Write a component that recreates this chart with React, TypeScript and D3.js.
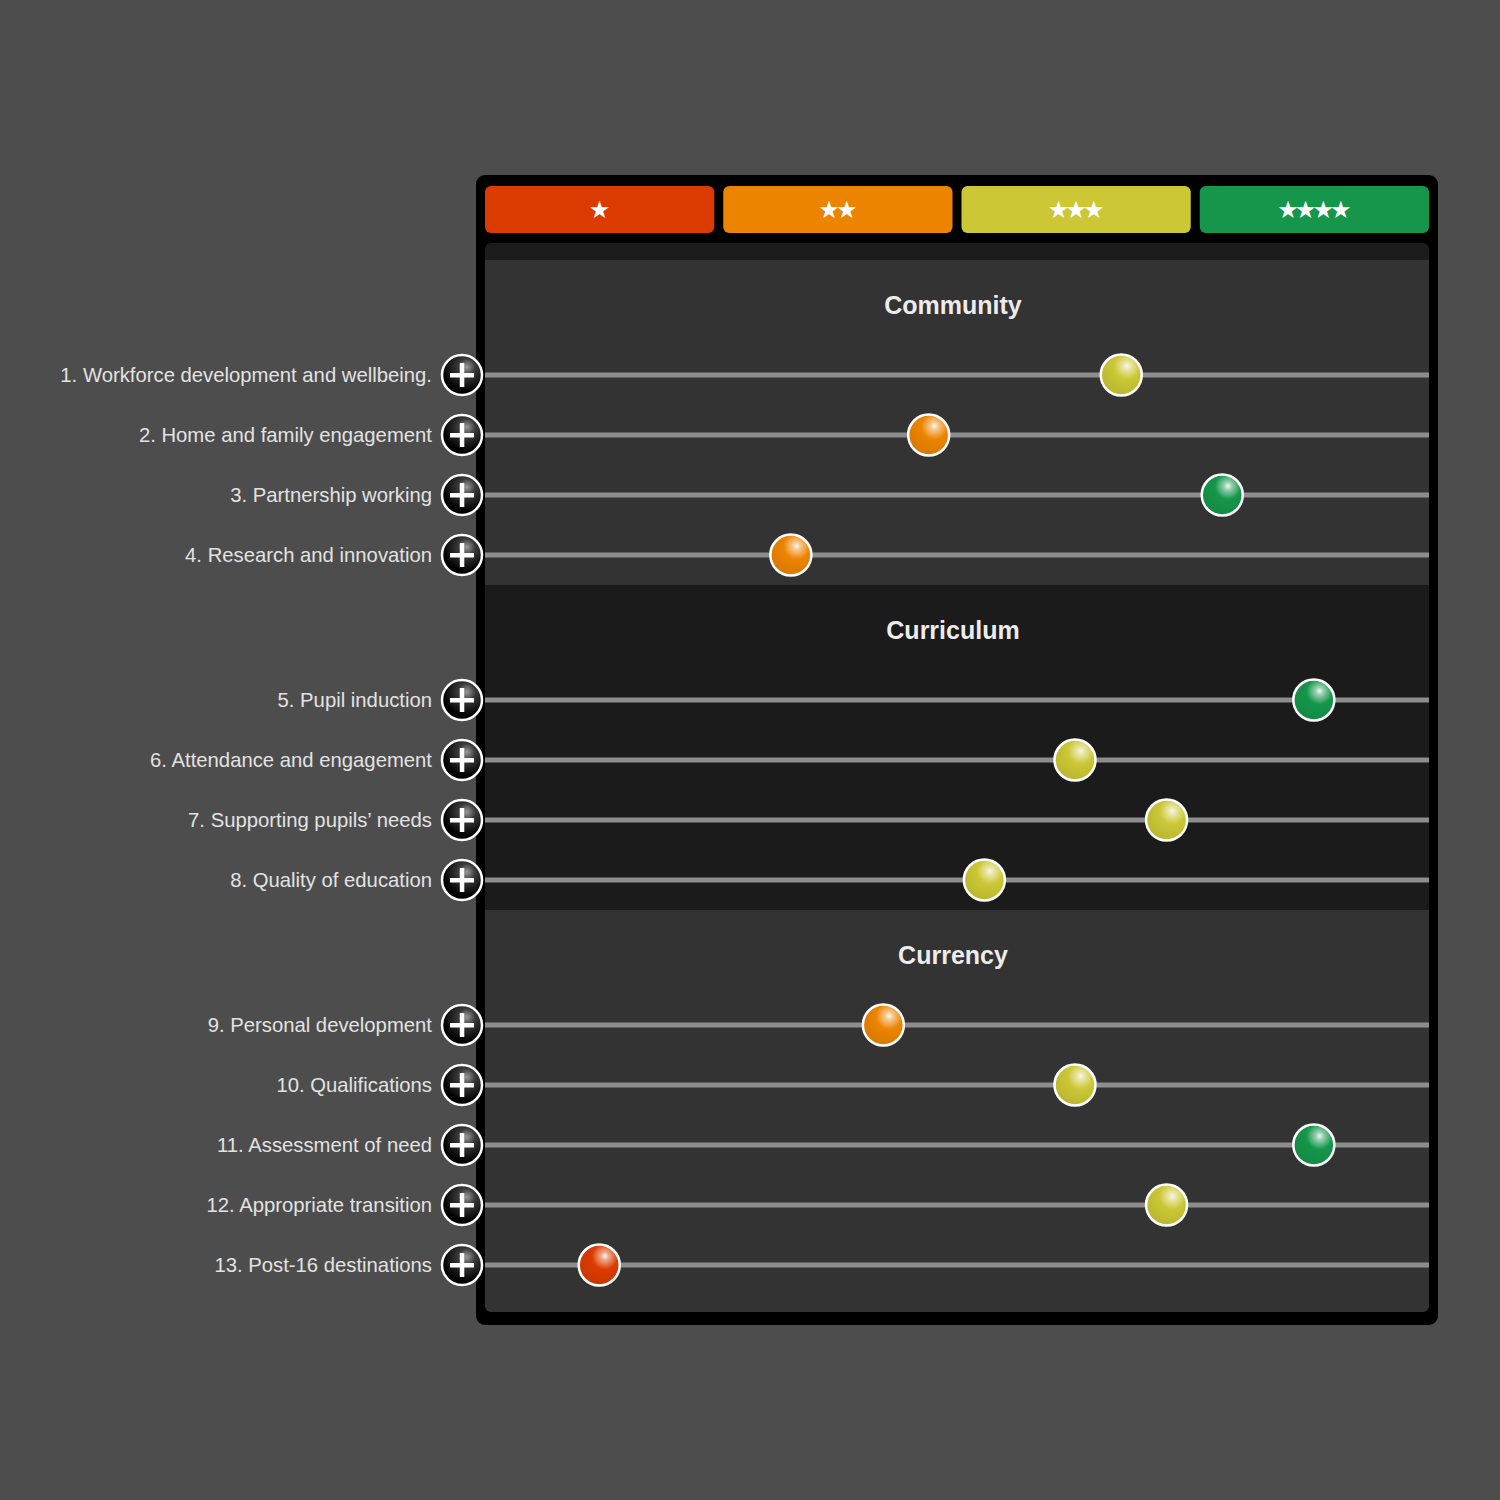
import React from "react";
import * as d3 from "d3";

const sections = ["Community", "Curriculum", "Currency"];
const sectionOf = [0, 0, 0, 0, 1, 1, 1, 1, 2, 2, 2, 2, 2];
const categories = [
  "1. Workforce development and wellbeing.",
  "2. Home and family engagement",
  "3. Partnership working",
  "4. Research and innovation",
  "5. Pupil induction",
  "6. Attendance and engagement",
  "7. Supporting pupils\u2019 needs",
  "8. Quality of education",
  "9. Personal development",
  "10. Qualifications",
  "11. Assessment of need",
  "12. Appropriate transition",
  "13. Post-16 destinations",
];
const values = [67.4, 47.0, 78.1, 32.4, 87.8, 62.5, 72.2, 52.9, 42.2, 62.5, 87.8, 72.2, 12.1];
const bandLabels = ["\u2605", "\u2605\u2605", "\u2605\u2605\u2605", "\u2605\u2605\u2605\u2605"];
const bandColors = ["#dc3b00", "#ec8400", "#cbc735", "#15964a"];

export default function App() {
  const W = 1500, H = 1500;
  const x0 = 485, x1 = 1429;
  const x = d3.scaleLinear().domain([0, 100]).range([x0, x1]);
  const color = d3.scaleThreshold<number, string>().domain([25, 50, 75]).range(bandColors);

  const sectionTop = [260, 585, 910];
  const sectionBottom = [585, 910, 1312];
  const titleY = [305, 630, 955];
  const rowY: number[] = [];
  const counts = [0, 0, 0];
  sectionOf.forEach((s) => {
    rowY.push(titleY[s] + 70 + counts[s] * 60);
    counts[s]++;
  });
  const secBg = ["#333333", "#1b1b1b", "#333333"];
  const gap = 9;
  const bandW = (x1 - x0 - 3 * gap) / 4;

  return (
    <svg width={W} height={H} style={{ position: "absolute", left: 0, top: 0 }}
      fontFamily="'Liberation Sans', Arial, sans-serif">
      <defs>
        {bandColors.map((c, i) => (
          <radialGradient key={i} id={`ball${i}`} cx="0.64" cy="0.3" r="0.8" fx="0.64" fy="0.28">
            <stop offset="0" stopColor="#ffffff" stopOpacity="0.95" />
            <stop offset="0.12" stopColor={d3.interpolateRgb(c, "#ffffff")(0.55)} />
            <stop offset="0.4" stopColor={c} />
            <stop offset="1" stopColor={d3.color(c)!.darker(0.3).toString()} />
          </radialGradient>
        ))}
        <radialGradient id="plusShine" cx="0.62" cy="0.3" r="0.6" fx="0.62" fy="0.3">
          <stop offset="0" stopColor="#9a9a9a" />
          <stop offset="0.35" stopColor="#3a3a3a" />
          <stop offset="1" stopColor="#000000" />
        </radialGradient>
        <clipPath id="panelClip">
          <rect x={x0} y={243} width={x1 - x0} height={1312 - 243} rx={6} />
        </clipPath>
      </defs>
      <rect width={W} height={H} fill="#4d4d4d" />
      <rect x={476} y={175} width={962} height={1150} rx={9} fill="#000" />
      {bandLabels.map((lab, i) => {
        const bx = x0 + i * (bandW + gap);
        return (
          <g key={i}>
            <rect x={bx} y={186} width={bandW} height={47} rx={6} fill={bandColors[i]} />
            <text x={bx + bandW / 2 - 2} y={218} textAnchor="middle" fill="#fff" fontSize={24}
              fontFamily="'DejaVu Sans', sans-serif" letterSpacing={-4}>{lab}</text>
          </g>
        );
      })}
      <g clipPath="url(#panelClip)">
        <rect x={x0} y={243} width={x1 - x0} height={20} fill="#1c1c1c" />
        {sections.map((s, i) => (
          <rect key={s} x={x0} y={sectionTop[i]} width={x1 - x0}
            height={sectionBottom[i] - sectionTop[i]} fill={secBg[i]} />
        ))}
      </g>
      {sections.map((s, i) => (
        <text key={s} x={953} y={titleY[i] + 9} textAnchor="middle" fill="#ececec"
          fontSize={25} fontWeight="bold">{s}</text>
      ))}
      {categories.map((c, i) => {
        const y = rowY[i];
        const v = values[i];
        const bi = bandColors.indexOf(color(v));
        return (
          <g key={c}>
            <rect x={x0} y={y - 2.5} width={x1 - x0} height={5} fill="#8d8d8d" />
            <text x={432} y={y + 7} textAnchor="end" fill="#e2e2e2" fontSize={20.3}>{c}</text>
            <circle cx={462} cy={y} r={20} fill="url(#plusShine)" stroke="#fff" strokeWidth={2.5} />
            <rect x={450} y={y - 2} width={24} height={4.5} fill="#fff" />
            <rect x={459.8} y={y - 12} width={4.5} height={24} fill="#fff" />
            <circle cx={x(v)} cy={y} r={20.5} fill={`url(#ball${bi})`} stroke="#fff" strokeWidth={2.5} />
          </g>
        );
      })}
    </svg>
  );
}
